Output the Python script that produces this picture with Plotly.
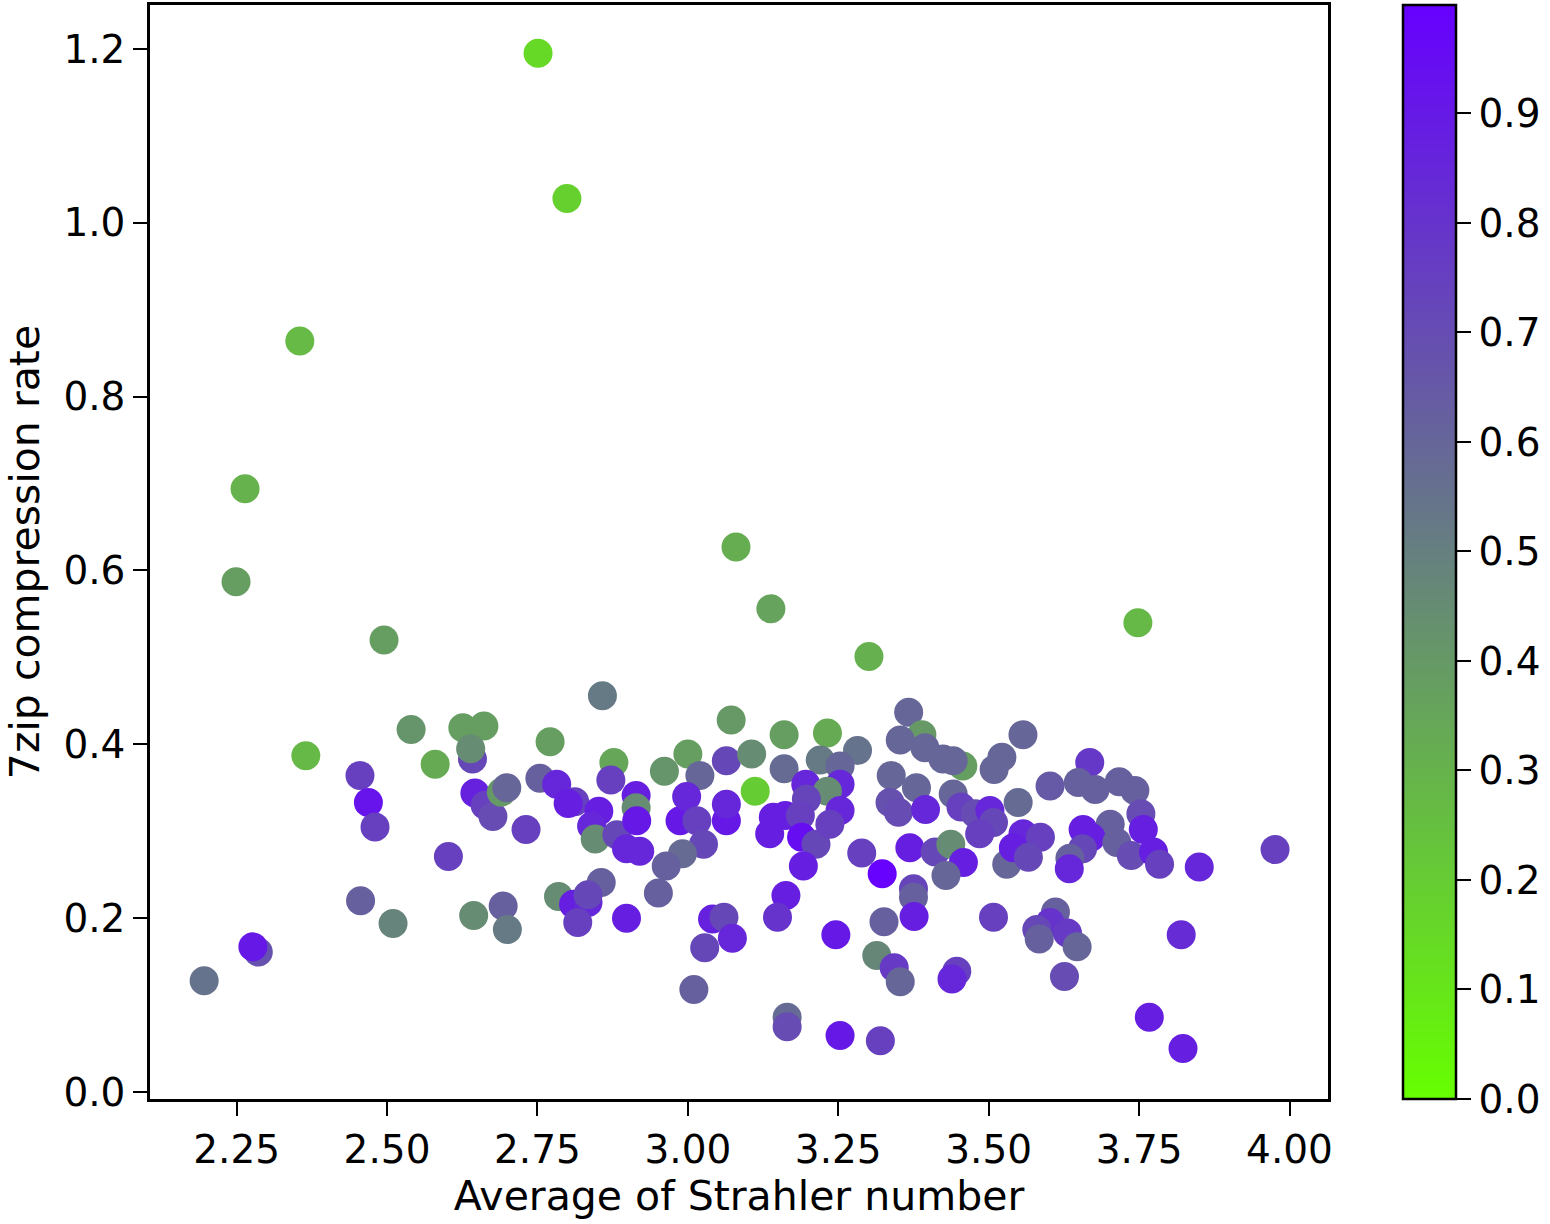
import plotly.graph_objects as go

# Average Strahler number (x), 7zip compression rate (y), colour value (c)
strahler = [
    2.751, 2.799, 2.355, 2.264, 2.249, 2.495, 2.365, 3.080, 3.138, 3.301,
    3.748, 3.112, 3.976, 2.196, 2.540, 2.580, 2.455, 2.469, 2.480, 2.602,
    2.456, 2.510, 2.286, 2.277, 2.626, 2.661, 2.642, 2.639, 2.771, 2.858,
    2.877, 2.872, 3.072, 3.000, 2.961, 3.020, 3.064, 2.754, 2.782, 2.646,
    2.663, 2.676, 2.690, 2.699, 2.731, 2.812, 2.801, 2.852, 2.840, 2.846,
    2.882, 2.914, 2.914, 2.915, 2.898, 2.920, 2.987, 2.998, 3.015, 3.026,
    2.991, 2.964, 3.064, 3.064, 2.856, 2.644, 2.693, 2.700, 2.785, 2.810,
    2.834, 2.834, 2.817, 2.898, 2.951, 3.041, 3.060, 3.074, 3.028, 3.010,
    3.160, 3.232, 3.106, 3.160, 3.220, 3.282, 3.253, 3.196, 3.253, 3.232,
    3.197, 3.142, 3.162, 3.187, 3.136, 3.189, 3.213, 3.253, 3.236, 3.192,
    3.289, 3.323, 3.367, 3.389, 3.353, 3.394, 3.424, 3.457, 3.441, 3.338,
    3.380, 3.336, 3.350, 3.395, 3.441, 3.454, 3.478, 3.502, 3.508, 3.485,
    3.522, 3.509, 3.557, 3.549, 3.557, 3.369, 3.411, 3.437, 3.458, 3.429,
    3.530, 3.541, 3.375, 3.375, 3.376, 3.163, 3.149, 3.246, 3.326, 3.508,
    3.314, 3.343, 3.353, 3.447, 3.439, 3.165, 3.165, 3.253, 3.320, 3.668,
    3.602, 3.649, 3.677, 3.717, 3.743, 3.753, 3.757, 3.586, 3.566, 3.657,
    3.702, 3.670, 3.713, 3.656, 3.635, 3.634, 3.737, 3.774, 3.784, 3.850,
    3.611, 3.602, 3.580, 3.584, 3.631, 3.647, 3.626, 3.820, 3.767, 3.823,
]
compression = [
    1.195, 1.028, 0.864, 0.694, 0.587, 0.520, 0.387, 0.627, 0.556, 0.501,
    0.540, 0.346, 0.279, 0.128, 0.417, 0.377, 0.364, 0.333, 0.305, 0.271,
    0.220, 0.194, 0.161, 0.167, 0.419, 0.421, 0.383, 0.395, 0.403, 0.456,
    0.379, 0.359, 0.428, 0.389, 0.369, 0.364, 0.381, 0.361, 0.354, 0.344,
    0.330, 0.317, 0.345, 0.350, 0.302, 0.334, 0.332, 0.323, 0.306, 0.291,
    0.296, 0.341, 0.327, 0.312, 0.280, 0.277, 0.312, 0.340, 0.312, 0.285,
    0.274, 0.260, 0.312, 0.331, 0.241, 0.203, 0.214, 0.187, 0.225, 0.216,
    0.218, 0.227, 0.195, 0.200, 0.229, 0.199, 0.201, 0.177, 0.166, 0.118,
    0.411, 0.413, 0.389, 0.372, 0.382, 0.393, 0.375, 0.354, 0.354, 0.346,
    0.337, 0.316, 0.318, 0.318, 0.297, 0.293, 0.285, 0.324, 0.308, 0.260,
    0.275, 0.251, 0.437, 0.411, 0.405, 0.396, 0.383, 0.375, 0.381, 0.364,
    0.350, 0.333, 0.322, 0.325, 0.343, 0.328, 0.320, 0.324, 0.310, 0.297,
    0.385, 0.371, 0.411, 0.333, 0.297, 0.281, 0.276, 0.285, 0.264, 0.249,
    0.262, 0.281, 0.234, 0.224, 0.202, 0.226, 0.201, 0.181, 0.196, 0.201,
    0.157, 0.143, 0.127, 0.139, 0.130, 0.086, 0.075, 0.065, 0.059, 0.379,
    0.352, 0.356, 0.348, 0.357, 0.347, 0.320, 0.302, 0.293, 0.270, 0.302,
    0.308, 0.293, 0.287, 0.280, 0.269, 0.257, 0.272, 0.276, 0.262, 0.259,
    0.207, 0.195, 0.187, 0.176, 0.183, 0.167, 0.133, 0.181, 0.086, 0.050,
]
colour = [
    0.15, 0.18, 0.27, 0.30, 0.38, 0.38, 0.28, 0.32, 0.36, 0.31,
    0.28, 0.20, 0.75, 0.55, 0.42, 0.33, 0.75, 0.92, 0.75, 0.75,
    0.62, 0.48, 0.68, 0.90, 0.38, 0.38, 0.72, 0.45, 0.38, 0.52,
    0.35, 0.75, 0.40, 0.38, 0.42, 0.60, 0.72, 0.62, 0.85, 0.87,
    0.75, 0.70, 0.40, 0.60, 0.75, 0.75, 0.88, 0.88, 0.85, 0.45,
    0.72, 0.88, 0.45, 0.90, 0.85, 0.85, 0.90, 0.85, 0.75, 0.72,
    0.58, 0.62, 0.90, 0.85, 0.62, 0.45, 0.62, 0.52, 0.45, 0.88,
    0.85, 0.72, 0.75, 0.88, 0.62, 0.87, 0.72, 0.85, 0.72, 0.62,
    0.38, 0.33, 0.45, 0.58, 0.52, 0.55, 0.60, 0.85, 0.85, 0.45,
    0.73, 0.88, 0.88, 0.75, 0.88, 0.95, 0.72, 0.85, 0.75, 0.88,
    0.75, 0.99, 0.60, 0.40, 0.60, 0.60, 0.60, 0.38, 0.60, 0.60,
    0.60, 0.68, 0.70, 0.85, 0.60, 0.75, 0.70, 0.85, 0.72, 0.75,
    0.60, 0.60, 0.60, 0.58, 0.85, 0.88, 0.72, 0.45, 0.88, 0.60,
    0.60, 0.88, 0.73, 0.62, 0.88, 0.88, 0.80, 0.90, 0.62, 0.75,
    0.47, 0.77, 0.60, 0.75, 0.85, 0.58, 0.70, 0.90, 0.75, 0.78,
    0.65, 0.62, 0.62, 0.62, 0.62, 0.70, 0.88, 0.75, 0.72, 0.88,
    0.62, 0.88, 0.62, 0.72, 0.62, 0.85, 0.70, 0.88, 0.75, 0.85,
    0.62, 0.80, 0.72, 0.62, 0.77, 0.60, 0.70, 0.83, 0.88, 0.88,
]

font = "DejaVu Sans"
scale = [[0.0, "rgb(102,255,0)"], [1.0, "rgb(102,0,255)"]]

fig = go.Figure(go.Scatter(
    x=strahler, y=compression, mode="markers",
    marker=dict(size=29, color=colour, colorscale=scale, cmin=0.0, cmax=0.999,
                line=dict(width=0), opacity=1,
                colorbar=dict(x=1.0637, xanchor="left", xpad=0, y=0.5, yanchor="middle",
                              len=1.0, ypad=0, thickness=53,
                              outlinewidth=2.5, outlinecolor="black",
                              ticks="outside", ticklen=14, tickwidth=2, tickcolor="black",
                              tick0=0, dtick=0.1, tickformat=".1f",
                              tickfont=dict(family=font, size=39, color="black"))),
    showlegend=False,
))

axis_style = dict(showline=True, mirror=True, linewidth=2.5, linecolor="black",
                  showgrid=False, zeroline=False, ticks="outside", ticklen=14,
                  tickwidth=2, tickcolor="black",
                  tickfont=dict(family=font, size=39, color="black"))

fig.update_xaxes(range=[2.106, 4.064], tick0=2.25, dtick=0.25, tickformat=".2f",
                 title=dict(text="Average of Strahler number", standoff=10,
                            font=dict(family=font, size=41, color="black")),
                 **axis_style)
fig.update_yaxes(range=[-0.008, 1.2505], tick0=0, dtick=0.2, tickformat=".1f",
                 title=dict(text="7zip compression rate", standoff=12,
                            font=dict(family=font, size=41, color="black")),
                 **axis_style)

fig.update_layout(width=1550, height=1224, plot_bgcolor="white", paper_bgcolor="white",
                  margin=dict(l=150, r=222, t=2, b=125),
                  font=dict(family=font, color="black"))

# the page body has a default 8px margin; drop it so the figure sits at 0,0
fig.write_html("out.html", config={"displayModeBar": False},
               post_script="document.body.style.margin='0';")
